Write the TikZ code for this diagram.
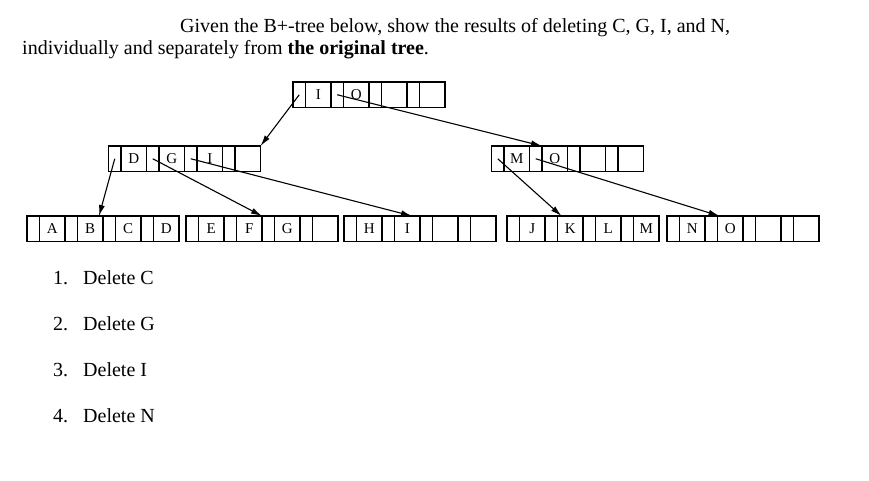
\documentclass[tikz,border=0pt]{standalone}
\usepackage{fontspec}
\setmainfont{Liberation Serif}
\usetikzlibrary{arrows.meta}
\tikzset{
  cellbase/.style={draw, line width=1.1pt, rectangle, inner sep=0pt, outer sep=0pt, minimum height=25.5pt, anchor=north west, font=\fontsize{15}{15}\selectfont},
  pcell/.style={cellbase, minimum width=12.5pt},
  kcell/.style={cellbase, minimum width=25.5pt},
  ptr/.style={line width=1.1pt, -{Latex[length=11pt,width=6pt]}},
  txt/.style={anchor=base west, inner sep=0pt, font=\fontsize{20}{20}\selectfont},
}
\newcommand\bpnode[7]{%
  \node[pcell] (#1-p1) at (#2,#3) {};
  \node[kcell] (#1-k1) at (#1-p1.north east) {#4};
  \node[pcell] (#1-p2) at (#1-k1.north east) {};
  \node[kcell] (#1-k2) at (#1-p2.north east) {#5};
  \node[pcell] (#1-p3) at (#1-k2.north east) {};
  \node[kcell] (#1-k3) at (#1-p3.north east) {#6};
  \node[pcell] (#1-p4) at (#1-k3.north east) {};
  \node[kcell] (#1-k4) at (#1-p4.north east) {#7};
}
\begin{document}
\begin{tikzpicture}[x=1pt,y=-1pt]
\useasboundingbox (0,0) rectangle (869,480);
% text
\node[txt] (t1) at (180,32) {Given the B+-tree below, show the results of deleting C, G, I, and N,};
\node[txt] (t2) at (22,54) {individually and separately from \textbf{the original tree}.};
\node[txt] (n1) at (53,284) {1.};
\node[txt] (d1) at (83,284) {Delete C};
\node[txt] (n2) at (53,330) {2.};
\node[txt] (d2) at (83,330) {Delete G};
\node[txt] (n3) at (53,376) {3.};
\node[txt] (d3) at (83,376) {Delete I};
\node[txt] (n4) at (53,422) {4.};
\node[txt] (d4) at (83,422) {Delete N};
% tree nodes
\bpnode{R}{293}{82}{I}{O}{}{}
\bpnode{DG}{108.5}{146}{D}{G}{I}{}
\bpnode{MO}{491.5}{146}{M}{O}{}{}
\bpnode{LA}{27}{216}{A}{B}{C}{D}
\bpnode{LB}{186}{216}{E}{F}{G}{}
\bpnode{LC}{344}{216}{H}{I}{}{}
\bpnode{LD}{507}{216}{J}{K}{L}{M}
\bpnode{LE}{667}{216}{N}{O}{}{}
% pointers
\draw[ptr] (R-p1.center) -- (DG-k4.north east);
\draw[ptr] (R-p2.center) -- (MO-p2.north east);
\draw[ptr] (DG-p1.center) -- ([xshift=-4pt]LA-k2.north east);
\draw[ptr] (DG-p2.center) -- (LB-p3.north west);
\draw[ptr] (DG-p3.center) -- ([xshift=-8pt]LC-k2.north east);
\draw[ptr] (MO-p1.center) -- ([xshift=4pt]LD-k2.north west);
\draw[ptr] (MO-p2.center) -- ([xshift=2pt]LE-k2.north west);
\end{tikzpicture}
\end{document}
